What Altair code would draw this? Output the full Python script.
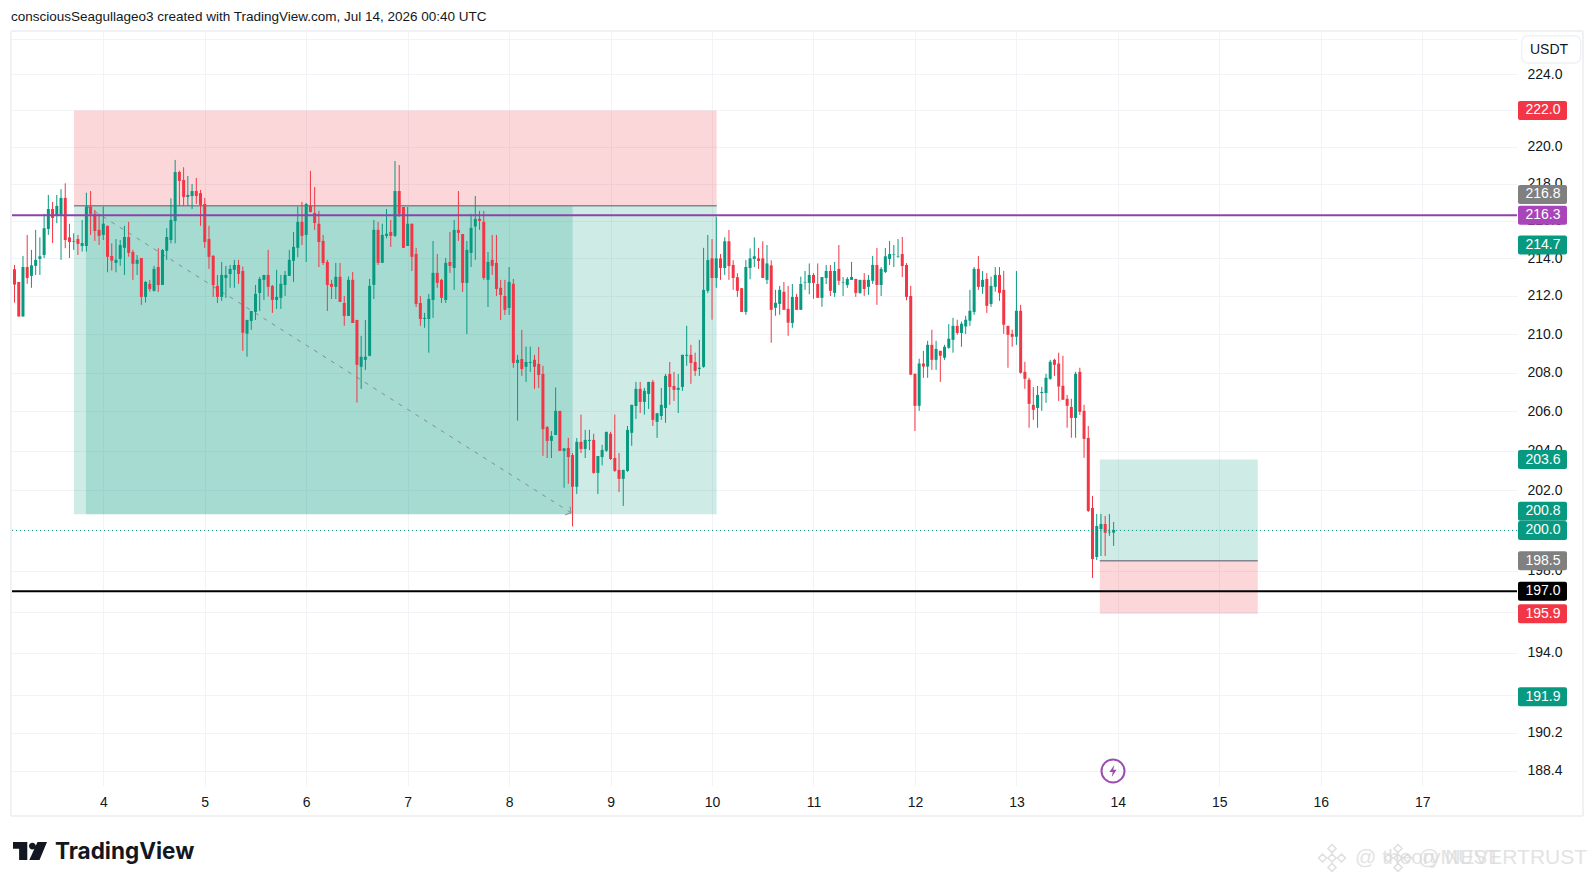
import altair as alt
import pandas as pd

open_ = [213.41,212.74,210.92,213.53,213.06,213.59,213.96,214.17,215.56,216.63,
216.26,216.26,217.23,215.11,214.88,215.02,214.65,214.65,216.76,216.37,
215.51,215.24,215.73,214.12,213.75,213.96,214.55,215.13,214.33,213.70,
214.01,211.95,212.64,212.27,213.53,212.58,214.39,214.97,215.99,218.63,
218.2,217.28,217.33,217.6,217.49,216.90,215.02,214.12,212.53,211.95,
212.95,213.16,213.38,213.64,213.32,210.02,210.69,211.16,212.16,212.85,
213.11,212.53,211.79,211.90,212.58,213.06,213.86,214.55,215.94,215.24,
216.80,216.42,215.84,214.92,213.80,212.64,212.48,213.01,211.63,210.95,
212.85,210.74,208.30,208.66,208.87,212.58,215.51,213.75,215.19,215.40,
215.19,217.60,216.74,214.65,215.84,214.23,211.63,210.79,210.79,211.79,
213.22,212.85,211.79,213.80,213.48,215.51,215.29,212.69,214.28,215.69,
216.10,215.94,212.85,213.91,213.75,212.43,212.0,211.37,212.64,208.50,
208.71,208.30,208.50,208.66,208.45,207.93,205.20,204.50,204.80,206.03,
203.99,204.14,203.78,202.18,204.45,204.09,204.50,204.55,202.88,203.68,
204.0,204.86,203.63,203.03,202.58,202.98,204.91,206.28,207.16,206.49,
206.90,207.52,205.47,205.77,206.18,207.93,207.31,207.11,207.26,208.87,
208.92,208.55,208.19,208.30,212.27,213.99,212.95,213.99,213.48,214.90,
213.64,212.99,212.41,211.16,213.48,213.96,213.99,213.99,212.85,213.62,
211.38,211.58,212.22,211.32,210.58,211.95,211.27,212.71,212.69,213.11,
212.63,211.90,212.95,213.32,212.16,213.43,212.71,212.58,212.85,212.90,
212.16,212.85,212.48,212.80,213.64,212.58,213.27,213.96,214.19,214.07,
214.22,213.64,212.0,207.94,206.29,208.47,208.31,209.44,208.66,209.13,
208.77,209.29,209.70,210.43,210.06,210.40,210.70,211.16,213.43,212.48,
212.90,211.58,212.48,213.11,212.32,210.43,210.01,209.86,211.22,208.04,
207.63,206.34,206.18,206.95,206.95,207.68,208.66,208.47,207.32,206.65,
206.23,205.67,208.04,206.03,204.65,201.12,198.68,200.07,200.32,199.90,
199.89]
close = [212.60,210.92,213.53,212.95,213.62,213.91,214.10,215.6,216.63,216.15,
216.80,217.23,214.97,214.86,214.92,214.76,214.81,216.76,216.37,215.45,
215.19,215.84,214.07,213.87,213.91,214.70,215.13,214.28,213.70,213.91,
211.95,212.74,212.37,213.43,212.58,214.44,215.13,216.04,218.63,218.15,
217.28,217.39,217.6,217.33,216.85,214.86,214.07,212.58,211.95,213.11,
213.11,213.43,213.64,213.16,210.07,210.74,211.21,212.11,212.90,213.11,
212.48,211.79,211.95,212.64,213.11,213.91,214.60,215.94,215.19,216.90,
216.47,215.88,214.86,213.75,212.58,212.48,213.01,211.69,210.95,212.85,
210.58,208.40,208.82,208.82,212.53,215.51,213.75,215.24,215.30,215.19,
217.60,216.37,214.55,215.84,214.07,211.58,210.79,210.85,211.84,213.22,
212.69,211.90,213.75,213.59,215.51,215.35,212.69,214.44,215.62,216.10,
215.99,212.95,213.80,213.59,212.37,212.05,211.27,212.74,208.50,208.66,
208.19,208.55,208.55,208.30,207.88,205.10,204.50,204.75,206.03,203.99,
204.12,203.68,202.18,204.45,204.09,204.55,204.55,202.88,203.73,204.04,
204.96,203.58,202.98,202.58,203.03,205.06,206.34,207.16,206.49,207.06,
207.52,205.57,205.91,206.34,207.83,207.26,207.11,207.21,208.92,208.92,
208.50,208.09,208.25,212.32,213.90,212.95,213.99,213.48,214.90,213.58,
212.95,212.27,211.16,213.53,213.99,214.10,213.85,212.95,213.72,211.27,
211.64,212.32,211.27,210.60,211.95,211.27,212.63,212.74,213.11,212.69,
211.90,213.0,213.32,212.27,213.32,212.80,212.74,212.90,213.0,212.16,
212.85,212.37,212.85,213.64,212.58,213.43,214.10,214.22,214.22,214.10,
213.58,211.95,207.89,206.29,208.47,208.31,209.44,208.66,209.23,208.87,
209.34,209.76,210.43,210.06,210.54,210.75,211.22,213.43,212.48,212.85,
211.48,212.53,213.11,212.16,210.49,209.96,209.86,211.22,207.99,207.68,
206.39,206.08,206.85,207.0,207.73,208.56,208.40,207.28,206.60,206.29,
205.67,207.94,205.98,204.60,200.97,198.58,200.22,200.32,199.88,199.93,
200.02]
high = [213.64,212.74,214.12,215.24,214.44,215.51,215.11,216.37,217.39,217.01,
217.39,217.70,218.02,215.84,215.33,215.24,216.04,217.51,217.6,216.58,
216.37,216.76,215.73,214.79,215.02,214.97,215.73,215.94,214.44,214.17,
214.01,212.78,212.85,213.59,214.53,214.48,215.6,217.21,219.29,218.71,
218.89,218.42,217.98,218.31,217.66,217.23,215.73,214.17,213.11,213.80,
213.59,213.64,213.91,213.91,213.55,210.74,211.21,212.58,213.01,213.11,
214.44,212.58,213.38,213.11,213.32,214.44,215.4,216.76,217.01,216.96,
218.69,217.82,216.53,215.24,213.91,212.85,213.75,213.75,212.0,213.03,
213.27,210.74,209.91,210.74,212.90,216.04,215.94,215.84,216.63,216.04,
219.23,219.01,216.74,216.74,215.84,214.55,212.0,211.11,212.11,214.92,
214.23,212.90,214.01,215.40,216.04,217.60,215.29,214.92,216.37,217.33,
216.53,216.53,214.33,215.24,215.24,212.85,212.85,213.53,212.90,208.92,
210.22,209.35,209.35,208.92,209.33,208.35,205.26,205.0,207.23,206.03,
204.12,204.65,203.88,204.64,205.84,205.06,205.06,204.86,203.73,204.30,
204.96,204.96,205.84,203.88,203.03,205.26,206.34,207.52,207.52,207.21,
207.52,207.62,205.91,207.21,207.93,208.55,208.04,207.93,208.92,210.43,
209.44,209.03,209.70,214.55,215.24,215.02,216.22,214.22,215.11,215.51,
213.89,213.2,212.41,213.90,214.52,215.11,214.54,214.90,214.70,213.89,
212.32,212.53,212.74,212.53,212.63,212.11,213.02,213.32,213.72,213.21,
213.72,213.0,213.64,213.64,213.80,214.70,213.0,213.0,213.80,212.90,
212.85,213.21,213.11,214.12,214.54,213.53,214.54,214.92,214.70,215.02,
215.13,213.74,212.53,207.94,208.72,209.13,209.65,210.23,209.65,209.13,
209.44,210.52,210.85,210.75,210.65,210.96,212.32,213.53,214.12,213.32,
213.21,213.02,213.53,213.53,213.32,210.43,210.23,213.32,211.53,208.56,
207.73,207.26,207.31,207.26,207.94,208.66,208.72,209.03,208.87,206.85,
206.65,208.04,208.25,206.34,205.26,201.72,200.82,200.82,200.72,200.82,
200.42]
low = [211.65,210.92,210.92,212.64,212.43,213.11,213.11,214.0,215.24,214.81,
215.87,213.91,214.53,214.01,214.44,214.17,214.35,214.35,215.24,214.92,
214.70,214.97,213.25,213.34,213.25,213.59,213.11,214.08,212.85,213.11,
211.53,211.65,212.23,212.23,212.21,212.58,213.91,214.79,214.79,216.80,
216.80,216.80,216.63,216.90,215.73,214.55,213.43,211.95,211.63,211.74,
211.90,212.43,212.43,212.64,209.13,208.82,210.22,210.74,211.21,211.79,
211.97,211.11,211.32,211.32,212.0,213.06,212.74,214.05,214.70,213.80,
216.44,215.51,213.53,213.64,211.21,211.84,211.84,211.69,210.43,210.95,
210.58,206.46,207.16,208.14,208.84,211.84,213.64,213.75,215.06,214.60,
215.13,216.21,214.55,214.65,213.32,211.42,210.43,210.33,209.03,210.85,
212.43,211.63,211.63,213.22,212.32,214.92,212.21,210.0,213.53,213.91,
215.51,212.85,211.42,213.11,212.0,210.74,211.0,211.0,208.25,205.53,
207.83,207.52,208.04,207.16,207.21,203.74,203.63,203.63,204.80,203.99,
202.13,202.33,200.2,201.82,203.88,203.63,204.03,202.83,201.82,203.26,
203.94,203.53,202.93,201.92,201.22,202.93,204.25,205.62,205.92,205.84,
206.13,205.26,204.65,205.57,205.42,206.34,206.54,205.92,207.06,208.35,
207.42,207.83,207.83,208.25,212.15,210.75,212.43,212.85,213.11,212.85,
212.32,211.95,211.15,211.01,212.88,213.53,213.43,212.95,212.63,209.55,
210.96,211.01,211.27,209.91,210.33,211.27,211.27,212.32,212.09,211.85,
211.90,211.43,212.63,212.0,211.95,212.58,212.0,212.43,212.85,211.95,
212.11,212.0,212.06,212.63,211.53,212.0,213.21,213.64,213.53,214.02,
213.0,211.77,207.89,205.0,206.03,207.73,207.73,208.14,208.14,207.52,
208.66,209.23,209.03,209.96,209.34,210.01,210.43,211.01,212.32,212.11,
211.11,211.43,212.22,211.74,210.01,208.25,209.34,209.44,207.94,207.16,
205.17,205.57,205.17,206.03,206.44,207.63,207.83,206.54,206.60,205.17,
204.66,204.66,205.82,203.64,200.92,197.65,198.53,198.73,198.73,199.73,
199.23]

# hours since the 4th, one candle per hour, first candle 21 hours before it
first_hour = -21
day_ticks = list(range(4, 18))
price_grid = [226, 224, 222, 220, 218, 216, 214, 212, 210, 208, 206, 204, 202, 200, 198, 196, 194, 192, 190.2, 188.4]
price_labels = [224, 222, 220, 218, 216, 214, 212, 210, 208, 206, 204, 202, 198, 194, 190.2, 188.4]

# position tools: day from, day to, price from, price to, colour, opacity
box_day0 = [3.711, 3.711, 3.829, 13.822, 13.822]
box_day1 = [10.046, 10.046, 8.626, 15.379, 15.379]
box_p0 = [222.0, 216.8, 216.8, 203.55, 198.5]
box_p1 = [216.8, 200.81, 200.81, 198.5, 195.9]
box_col = ["#F23645", "#089981", "#089981", "#089981", "#F23645"]
box_op = [0.2, 0.2, 0.2, 0.2, 0.2]

entry_day0 = [3.711, 13.822]
entry_day1 = [10.046, 15.379]
entry_price = [216.8, 198.5]

diag_day = [3.829, 8.61]
diag_price = [216.8, 200.88]
arrow_day = [8.55, 8.61, 8.60]
arrow_price = [200.77, 200.88, 201.19]

tag_text = ["222.0", "216.8", "216.3", "214.7", "203.6", "200.8", "200.0", "198.5", "197.0", "195.9", "191.9"]
tag_pos = [222.0, 217.42, 216.3, 214.7, 203.55, 200.95, 200.0, 198.5, 197.0, 195.9, 191.9]
tag_col = ["#F23645", "#808080", "#A845B8", "#089981", "#089981", "#089981", "#089981", "#808080", "#000000", "#F23645", "#089981"]

UP, DOWN = "#089981", "#F23645"
FONT = "Liberation Sans"
GRID = "#F2F3F7"

W, H = 1506, 755
xs = alt.Scale(domain=[3.0903, 17.934], nice=False, zero=False, padding=0)
ys = alt.Scale(type="log", domain=[187.69, 226.43], nice=False, zero=False, padding=0)

n = len(open_)
df = pd.DataFrame({
    "day": [4 + (first_hour + k) / 24 for k in range(n)],
    "open": open_, "high": high, "low": low, "close": close,
})
df["dir"] = ["up" if c >= o else "down" for o, c in zip(open_, close)]
col = alt.Color("dir:N", scale=alt.Scale(domain=["up", "down"], range=[UP, DOWN]), legend=None)

one = alt.Data(values=[{"a": 1}])

x_axis = alt.Axis(values=day_ticks, title=None, grid=True, gridColor=GRID, gridWidth=1, domain=False, ticks=False,
                  labelFont=FONT, labelFontSize=14, labelColor="#131722", labelPadding=9, format="d", labelFlush=False)
y_axis = alt.Axis(values=price_grid, title=None, orient="right", grid=True, gridColor=GRID, gridWidth=1, domain=False,
                  ticks=False, labelFont=FONT, labelFontSize=14, labelColor="#131722", labelPadding=10,
                  labelAlign="left", labelOverlap=False,
                  labelExpr="indexof([" + ",".join(str(v) for v in price_labels) + "], datum.value) >= 0 ? format(datum.value, '.1f') : ''")

base = alt.Chart(df)

boxes_df = pd.DataFrame({"d0": box_day0, "d1": box_day1, "p0": box_p0, "p1": box_p1, "c": box_col, "o": box_op})
boxes = alt.Chart(boxes_df).mark_rect().encode(
    x=alt.X("d0:Q", scale=xs, axis=x_axis), x2="d1:Q",
    y=alt.Y("p0:Q", scale=ys, axis=y_axis), y2="p1:Q",
    color=alt.Color("c:N", scale=None), opacity=alt.Opacity("o:Q", scale=None))

entries = alt.Chart(pd.DataFrame({"d0": entry_day0, "d1": entry_day1, "p": entry_price})).mark_rule(
    color="#787B86", strokeWidth=1.5, opacity=0.9).encode(
    x=alt.X("d0:Q", scale=xs), x2="d1:Q", y=alt.Y("p:Q", scale=ys))

diag = alt.Chart(pd.DataFrame({"d": diag_day, "p": diag_price})).mark_line(
    color="#80858F", strokeWidth=1, strokeDash=[4, 6], opacity=0.9).encode(
    x=alt.X("d:Q", scale=xs), y=alt.Y("p:Q", scale=ys))
arrow = alt.Chart(pd.DataFrame({"d": arrow_day, "p": arrow_price, "k": [0, 1, 2]})).mark_line(
    color="#80858F", strokeWidth=1, opacity=0.9).encode(
    x=alt.X("d:Q", scale=xs), y=alt.Y("p:Q", scale=ys), order="k:Q")

wicks = base.mark_rule(strokeWidth=1).encode(
    x=alt.X("day:Q", scale=xs), y=alt.Y("low:Q", scale=ys), y2="high:Q", color=col)
bodies = base.mark_bar(size=3).encode(
    x=alt.X("day:Q", scale=xs), y=alt.Y("open:Q", scale=ys), y2="close:Q", color=col)

level_df = pd.DataFrame({"p": [216.3, 197.0], "c": ["#8E44A5", "#000000"]})
levels = alt.Chart(level_df).mark_rule(strokeWidth=2).encode(
    y=alt.Y("p:Q", scale=ys), color=alt.Color("c:N", scale=None))
last_line = alt.Chart(pd.DataFrame({"p": [200.0]})).mark_rule(
    strokeWidth=1, strokeDash=[1, 3], color=UP).encode(y=alt.Y("p:Q", scale=ys))

tags_df = pd.DataFrame({"t": tag_text, "p": tag_pos, "c": tag_col})
tags = alt.Chart(tags_df).mark_bar(size=19, cornerRadius=2).encode(
    y=alt.Y("p:Q", scale=ys), x=alt.value(W + 1), x2=alt.value(W + 50), color=alt.Color("c:N", scale=None))
tag_txt = alt.Chart(tags_df).mark_text(font=FONT, fontSize=14, color="white", align="center", baseline="middle").encode(
    y=alt.Y("p:Q", scale=ys), x=alt.value(W + 26), text="t:N")


def rule(x0, y0, x1, y1):
    return alt.Chart(one).mark_rule(color="#F0F1F4", strokeWidth=2).encode(
        x=alt.value(x0), x2=alt.value(x1), y=alt.value(y0), y2=alt.value(y1))


frame = rule(0, 0, 1572, 0) + rule(0, 0, 0, 785) + rule(1572, 0, 1572, 785) + rule(0, 785, 1572, 785)

usdt_box = alt.Chart(one).mark_rect(fill="white", stroke="#F0F1F4", strokeWidth=1.5, cornerRadius=6).encode(
    x=alt.value(W + 4.7), x2=alt.value(W + 63.7), y=alt.value(4.7), y2=alt.value(32))
usdt = alt.Chart(one).mark_text(text="USDT", font=FONT, fontSize=14, color="#131722").encode(
    x=alt.value(W + 32), y=alt.value(19))

title = alt.Chart(one).mark_text(
    text="consciousSeagullageo3 created with TradingView.com, Jul 14, 2026 00:40 UTC",
    font=FONT, fontSize=13.5, color="#131722", align="left", baseline="middle").encode(
    x=alt.value(0), y=alt.value(-14))

logo_path = "M-1,-0.53 L-0.16,-0.53 L-0.16,0.53 L-0.64,0.53 L-0.64,-0.13 L-1,-0.13 Z " \
            "M0.34,-0.29 A0.2,0.2 0 1 1 -0.06,-0.29 A0.2,0.2 0 1 1 0.34,-0.29 Z " \
            "M0.44,-0.53 L1,-0.53 L0.56,0.53 L-0.04,0.53 Z"
logo = alt.Chart(one).mark_point(shape=logo_path, size=1156, filled=True, color="#131722", opacity=1).encode(
    x=alt.value(19), y=alt.value(820))
logo_text = alt.Chart(one).mark_text(text="TradingView", font="Inter", fontWeight=700, fontSize=22.5,
                                     color="#131722", align="left", baseline="middle").encode(
    x=alt.value(44), y=alt.value(821))

WM = "#DCDCDC"
binance_path = "M0,-1 L0.3,-0.7 L0,-0.4 L-0.3,-0.7 Z M0,-0.3 L0.3,0 L0,0.3 L-0.3,0 Z " \
               "M0,0.4 L0.3,0.7 L0,1 L-0.3,0.7 Z M-0.7,-0.3 L-0.4,0 L-0.7,0.3 L-1,0 Z M0.7,-0.3 L1,0 L0.7,0.3 L0.4,0 Z"
wm1 = alt.Chart(one).mark_text(text="@ theoryMUST", font=FONT, fontSize=21, color=WM, align="left",
                               baseline="middle", opacity=0.8).encode(x=alt.value(1344), y=alt.value(827))
wm2 = alt.Chart(one).mark_text(text="@ NEVERTRUST", font=FONT, fontSize=21, color=WM, align="left",
                               baseline="middle", opacity=0.8).encode(x=alt.value(1407), y=alt.value(827))
wm_d1 = alt.Chart(one).mark_point(shape=binance_path, size=729, color=WM, strokeWidth=1.5, opacity=0.9).encode(x=alt.value(1321), y=alt.value(827))
wm_d2 = alt.Chart(one).mark_point(shape=binance_path, size=729, color=WM, strokeWidth=1.5, opacity=0.9).encode(x=alt.value(1387), y=alt.value(827))

bolt_path = "M0.2,-1 L-0.6,0.15 L-0.05,0.15 L-0.2,1 L0.6,-0.2 L0.05,-0.2 Z"
PURPLE = "#9C4DB0"
bolt_ring = alt.Chart(one).mark_point(shape="circle", size=529, color=PURPLE, strokeWidth=2, opacity=1).encode(
    x=alt.value(1102), y=alt.value(740))
bolt = alt.Chart(one).mark_point(shape=bolt_path, size=144, color=PURPLE, filled=True, opacity=1).encode(
    x=alt.value(1102), y=alt.value(740))

chart = alt.layer(
    boxes, entries, diag, arrow, wicks, bodies, levels, last_line, tags, tag_txt,
    frame, usdt_box, usdt, title, logo, logo_text, wm_d1, wm_d2, wm1, wm2, bolt_ring, bolt,
).resolve_scale(color="independent").properties(
    width=W, height=H,
    autosize=alt.AutoSizeParams(type="none"),
    padding={"left": 3, "top": 23, "right": 70, "bottom": 88},
    background="white",
).configure_view(stroke=None)

chart.save("out.html", embed_options={"renderer": "svg", "actions": False})
